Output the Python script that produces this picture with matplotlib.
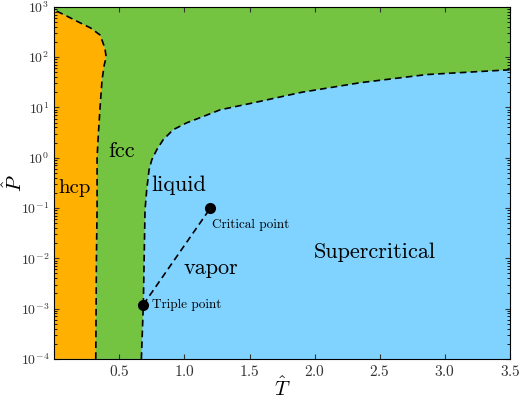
import numpy as np
import matplotlib
matplotlib.use('Agg')
import matplotlib.pyplot as plt
from matplotlib.ticker import NullFormatter, FixedLocator

plt.rcParams['font.family'] = 'serif'
plt.rcParams['font.serif'] = ['cmr10', 'DejaVu Serif']
plt.rcParams['mathtext.fontset'] = 'cm'
plt.rcParams['axes.formatter.use_mathtext'] = True

# hcp / fcc boundary (T, P), bottom to top
hcp_T = [0.32, 0.325, 0.33, 0.33, 0.34, 0.355, 0.368, 0.385, 0.40, 0.39, 0.376, 0.353, 0.28, 0.20, 0.10, 0.0]
hcp_P = [1e-4, 1e-2, 1e-1, 1.0, 3.0, 12.0, 35.0, 70.0, 100.0, 150.0, 190.0, 275.0, 380.0, 480.0, 650.0, 870.0]

# solid / fluid boundary (T, P), bottom to right edge
melt_T = [0.67, 0.685, 0.698, 0.711, 0.729, 0.750, 0.788, 0.837, 0.913, 1.018, 1.144, 1.274, 1.527, 1.90, 2.35, 2.86, 3.5]
melt_P = [1e-4, 1.2e-3, 0.091, 0.23, 0.575, 0.91, 1.44, 2.27, 3.59, 4.94, 6.59, 8.95, 12.3, 20.0, 31.0, 45.0, 56.0]

# liquid-vapor line
lv_T = [0.685, 1.2]
lv_P = [1.2e-3, 0.1]

y_ticks = [1e-4, 1e-3, 1e-2, 1e-1, 1e0, 1e1, 1e2, 1e3]
x_ticks = [0.5, 1.0, 1.5, 2.0, 2.5, 3.0, 3.5]

orange = '#FFB000'
green = '#74C442'
blue = '#80D2FF'

fig, ax = plt.subplots(figsize=(5.2, 4.01), dpi=100)
fig.subplots_adjust(left=0.104, right=0.981, top=0.983, bottom=0.105)
ax.set_facecolor(blue)
ax.set_yscale('log')

# orange region
ax.fill([0.0] + hcp_T + [0.0], [1e-4] + hcp_P + [870.0], color=orange, lw=0, zorder=1)
# green region
ax.fill(melt_T + [3.5, 0.0] + hcp_T[::-1], melt_P + [1e3, 1e3] + hcp_P[::-1], color=green, lw=0, zorder=1)

ax.plot(hcp_T, hcp_P, color='k', ls='--', lw=1.2, dashes=(4, 2.5), zorder=2)
ax.plot(melt_T, melt_P, color='k', ls='--', lw=1.2, dashes=(4, 2.5), zorder=2)
ax.plot(lv_T, lv_P, color='k', ls='--', lw=1.2, dashes=(4, 2.5), zorder=2)
ax.plot(lv_T, lv_P, 'o', color='k', ms=7, zorder=3)

ax.text(0.16, 10**-0.6, 'hcp', fontsize=15, ha='center', va='center')
ax.text(0.52, 10**0.12, 'fcc', fontsize=16, ha='center', va='center')
ax.text(0.96, 10**-0.54, 'liquid', fontsize=16, ha='center', va='center')
ax.text(1.205, 10**-2.19, 'vapor', fontsize=16, ha='center', va='center')
ax.text(2.46, 10**-1.87, 'Supercritical', fontsize=16, ha='center', va='center')
ax.text(1.215, 10**-1.33, 'Critical point', fontsize=9.5, ha='left', va='center')
ax.text(0.752, 10**-2.92, 'Triple point', fontsize=9.5, ha='left', va='center')

ax.set_xlim(0, 3.5)
ax.set_ylim(1e-4, 1e3)
ax.set_xticks(x_ticks)
ax.set_yticks(y_ticks)
minor = [m * 10.0**e for e in range(-4, 3) for m in range(2, 10)]
ax.yaxis.set_minor_locator(FixedLocator(minor))
ax.yaxis.set_minor_formatter(NullFormatter())
ax.tick_params(which='both', direction='in', top=True, right=True)
ax.tick_params(labelsize=10, colors='#333333')
ax.tick_params(axis='x', labelsize=11)
ax.set_xlabel(r'$\hat{T}$', fontsize=15)
ax.set_ylabel(r'$\hat{P}$', fontsize=15)
ax.xaxis.set_label_coords(0.5, -0.05)
ax.yaxis.set_label_coords(-0.062, 0.5)

plt.savefig('out.png')
